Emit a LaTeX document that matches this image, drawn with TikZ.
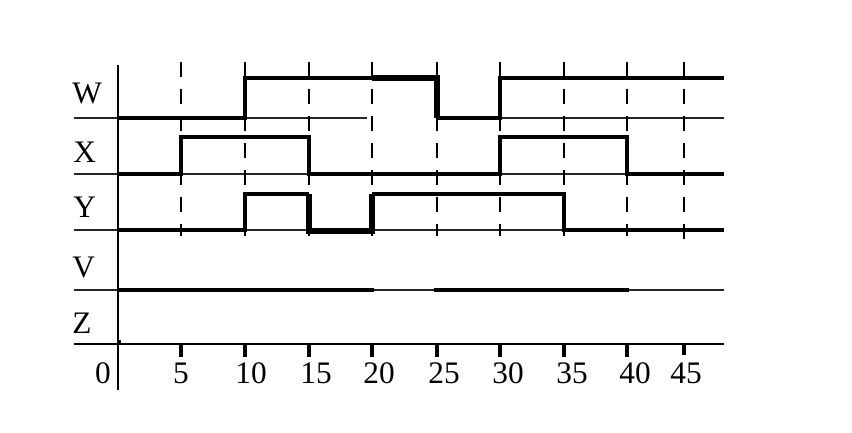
\documentclass[tikz,border=0pt]{standalone}
\usepackage{fontspec}
\setmainfont{Liberation Serif}
\begin{document}
\begin{tikzpicture}[x=0.75pt,y=-0.75pt,
  base/.style={line width=1.1pt, black!85},
  sig/.style={line width=2.9pt, line join=miter},
  sigthick/.style={line width=4.6pt, line join=miter},
  gridline/.style={line width=1.6pt, dash pattern=on 11.25pt off 9pt},
  tickmark/.style={line width=2.8pt},
  lbl/.style={font=\fontsize{23.5}{28}\selectfont, inner sep=0pt}]
\useasboundingbox (0,0) rectangle (852,432);
% baselines
\draw[base] (74,118) -- (367,118);
\draw[base] (437,118) -- (724,118);
\draw[base] (74,174) -- (724,174);
\draw[base] (74,230) -- (724,230);
\draw[base] (74,290) -- (724,290);
\draw[line width=1.5pt] (74,344) -- (724,344);
% vertical axis
\draw[line width=1.3pt] (118,65) -- (118,390);
% dashed grid lines
\foreach \gx in {181,245,309,372,437,500,564,627}
  \draw[gridline] (\gx,62) -- (\gx,236);
\draw[gridline] (684,62) -- (684,249);
% axis ticks
\foreach \gx in {181,245,309,372,437,500,564,627}
  \draw[tickmark] (\gx,344) -- (\gx,357);
\draw[tickmark] (684,344) -- (684,355);
% W
\draw[sig] (118,118) -- (245,118) -- (245,78) -- (372,78);
\draw[sigthick] (372,78) -- (437,78) -- (437,118);
\draw[sig] (437,118) -- (500,118) -- (500,78) -- (724,78);
% X
\draw[sig] (118,174) -- (181,174) -- (181,137) -- (309,137) -- (309,174)
  -- (500,174) -- (500,137) -- (627,137) -- (627,174) -- (724,174);
% Y
\draw[sig] (118,230) -- (245,230) -- (245,194) -- (309,194);
\draw[sigthick] (309,194) -- (309,231) -- (372,231) -- (372,194);
\draw[sig] (372,194) -- (564,194) -- (564,230) -- (724,230);
% V
\draw[sig] (118,290) -- (372,290) -- (372,288);
\draw[sig] (436,288) -- (436,290) -- (627,290) -- (627,288);
% Z mark
\fill (117,340) rectangle (121,344);
% labels
\node[lbl, anchor=base west] (lw) at (72,103) {W};
\node[lbl, anchor=base west] (lx) at (73,162) {X};
\node[lbl, anchor=base west] (ly) at (73,217) {Y};
\node[lbl, anchor=base west] (lv) at (72,277) {V};
\node[lbl, anchor=base west] (lz) at (72,333) {Z};
% numbers
\node[lbl, anchor=base] (n0) at (103,383) {0};
\node[lbl, anchor=base] (n5) at (181,383) {5};
\node[lbl, anchor=base] (n10) at (251,383) {10};
\node[lbl, anchor=base] (n15) at (316,383) {15};
\node[lbl, anchor=base] (n20) at (379,383) {20};
\node[lbl, anchor=base] (n25) at (444,383) {25};
\node[lbl, anchor=base] (n30) at (508,383) {30};
\node[lbl, anchor=base] (n35) at (572,383) {35};
\node[lbl, anchor=base] (n40) at (635,383) {40};
\node[lbl, anchor=base] (n45) at (686,383) {45};
\end{tikzpicture}
\end{document}
